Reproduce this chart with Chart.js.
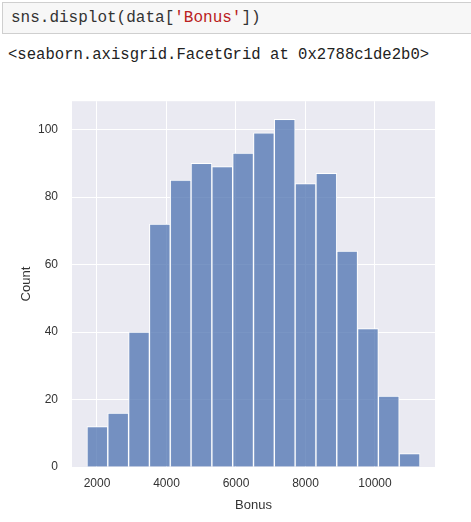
<!DOCTYPE html>
<html><head><meta charset="utf-8">
<script src="https://cdn.jsdelivr.net/npm/chart.js@4"></script>
<style>
body{margin:0;background:#fff;width:471px;height:522px;overflow:hidden;position:relative}
#cell{position:absolute;left:2px;top:2px;width:470px;height:32px;box-sizing:border-box;border:1px solid #cfcfcf;background:#f7f7f7;font:16px "Liberation Mono",monospace;line-height:30px;padding-left:8px;color:#333}
#out{position:absolute;left:8px;top:46px;font:15.6px "Liberation Mono",monospace;color:#222}
#wrap{position:absolute;left:0;top:80px;width:471px;height:442px}
</style></head><body>
<div id="cell">sns.displot(data[<span style="color:#ba2121">'Bonus'</span>])</div>
<div id="out">&lt;seaborn.axisgrid.FacetGrid at 0x2788c1de2b0&gt;</div>
<div id="wrap"><canvas id="c"></canvas></div>
<script>
const binStart = 1712;
const binWidth = 599;
const counts = [12,16,40,72,85,90,89,93,99,103,84,87,64,41,21,4];
const xTicks = [2000,4000,6000,8000,10000];
const yTicks = [0,20,40,60,80,100];
const pts = counts.map((c,i)=>({x: binStart + binWidth*(i+0.5), y: c}));
const bgPlugin = {id:'bg',beforeDraw(ch){const a=ch.chartArea,ctx=ch.ctx;ctx.save();ctx.fillStyle='#eaeaf2';ctx.fillRect(a.left,a.top,a.right-a.left,a.bottom-a.top);ctx.restore();}};
new Chart(document.getElementById('c'),{
  type:'bar',
  data:{datasets:[{data:pts,backgroundColor:'rgba(76,114,176,0.75)',borderColor:'#ffffff',borderWidth:1,barPercentage:1,categoryPercentage:1,grouped:false}]},
  options:{responsive:true,maintainAspectRatio:false,animation:false,
    layout:{padding:{top:3,right:36,left:15,bottom:9}},
    plugins:{legend:{display:false},tooltip:{enabled:false}},
    scales:{
      x:{type:'linear',min:1281,max:11727,offset:false,
        afterBuildTicks(s){s.ticks=xTicks.map(v=>({value:v}));},
        afterFit(s){s.height=46;},
        grid:{color:'#ffffff',lineWidth:1,drawTicks:false,offset:false},border:{display:false},
        ticks:{color:'#333',font:{family:'Liberation Sans',size:12},padding:9,maxRotation:0,callback:v=>String(v)},
        title:{display:true,text:'Bonus',color:'#333',font:{family:'Liberation Sans',size:13},padding:{top:0,bottom:0}}},
      y:{min:0,max:108.4,
        afterBuildTicks(s){s.ticks=yTicks.map(v=>({value:v}));},
        afterFit(s){s.width=57;},
        grid:{color:'#ffffff',lineWidth:1,drawTicks:false},border:{display:false},
        ticks:{color:'#333',font:{family:'Liberation Sans',size:12},padding:14},
        title:{display:true,text:'Count',color:'#333',font:{family:'Liberation Sans',size:13}}}
    }},
  plugins:[bgPlugin]
});
</script></body></html>
